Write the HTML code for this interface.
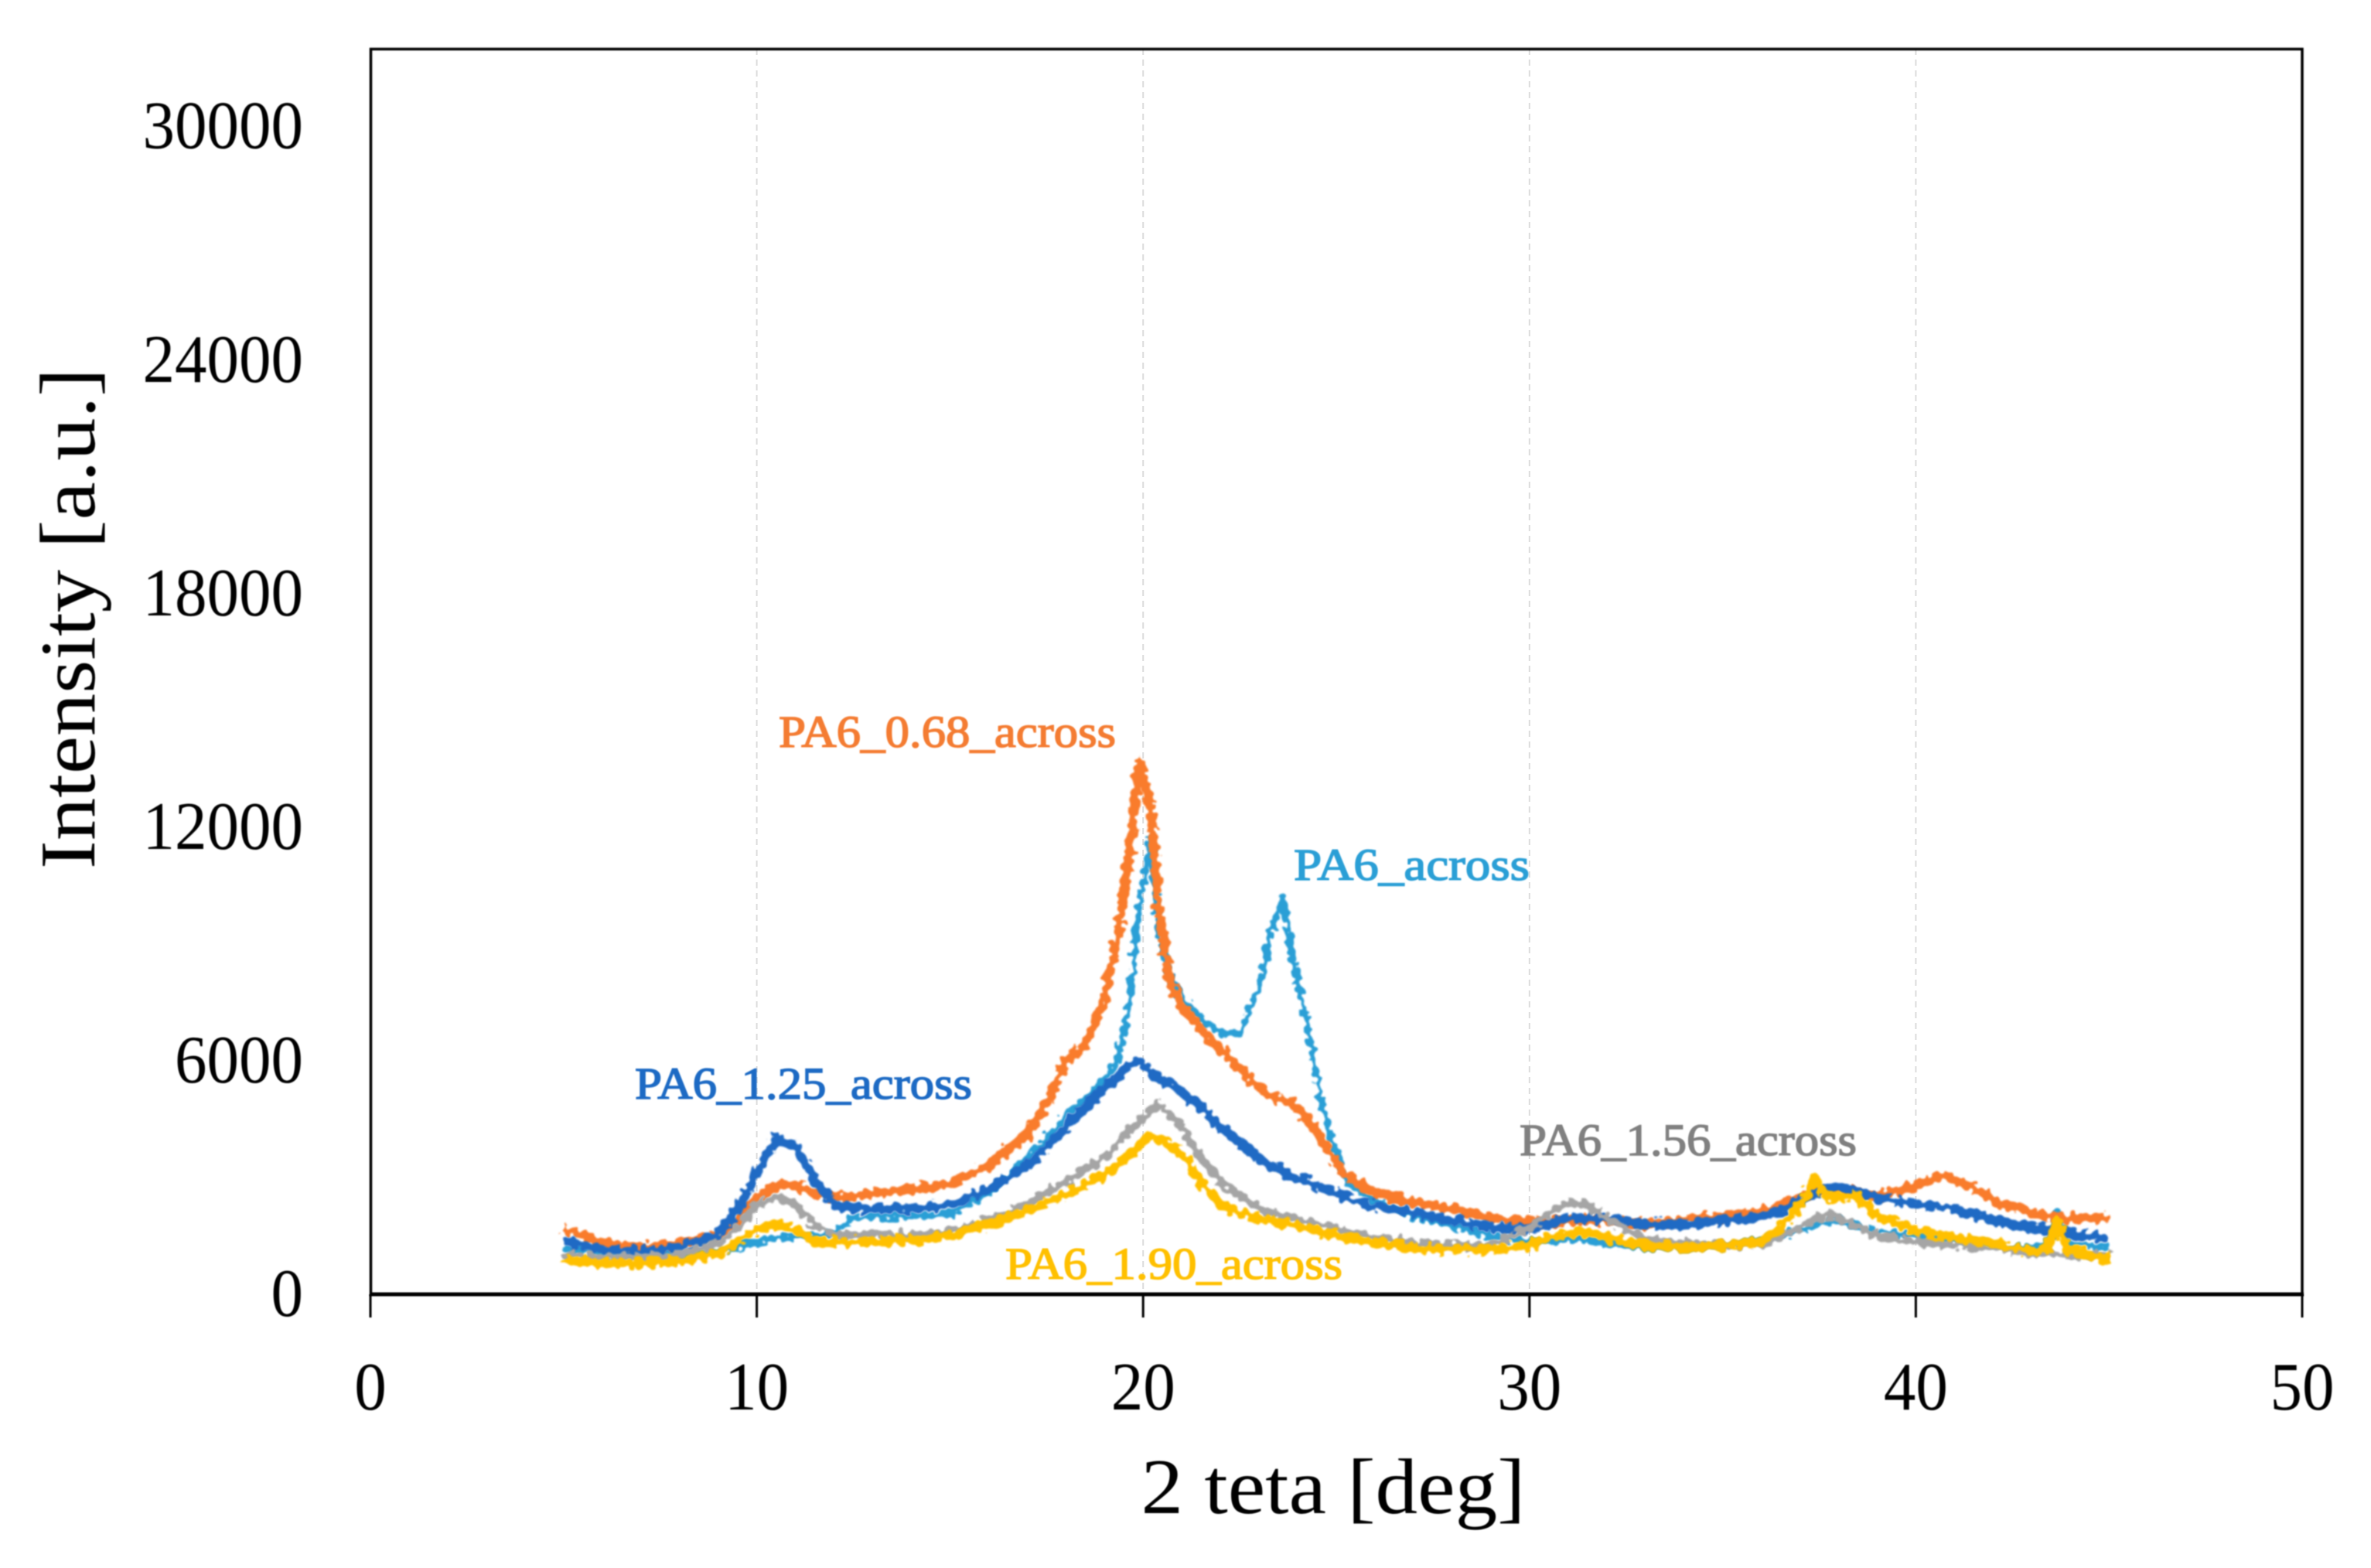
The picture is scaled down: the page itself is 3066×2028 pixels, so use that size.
<!DOCTYPE html>
<html lang="en">
<head>
<meta charset="utf-8">
<title>PA6 XRD intensity chart</title>
<style>
html,body{margin:0;padding:0;background:#fff;}
body{width:3066px;height:2028px;overflow:hidden;}
svg{display:block;}
text{font-family:"Liberation Serif","DejaVu Serif",serif;}
</style>
</head>
<body>
<svg id="chart" xmlns="http://www.w3.org/2000/svg" width="3066" height="2028" viewBox="0 0 3066 2028">
  <defs>
    <filter id="soft" x="0" y="0" width="3066" height="2028" filterUnits="userSpaceOnUse">
      <feGaussianBlur stdDeviation="0.9"/>
    </filter>
    <filter id="noise1" x="600" y="800" width="2300" height="900" filterUnits="userSpaceOnUse" color-interpolation-filters="sRGB">
      <feTurbulence type="fractalNoise" baseFrequency="0.13" numOctaves="1" seed="3" result="n"/>
      <feDisplacementMap in="SourceGraphic" in2="n" scale="18" xChannelSelector="R" yChannelSelector="G"/>
      <feGaussianBlur stdDeviation="1"/>
    </filter>
    <filter id="noise2" x="600" y="800" width="2300" height="900" filterUnits="userSpaceOnUse" color-interpolation-filters="sRGB">
      <feTurbulence type="fractalNoise" baseFrequency="0.13" numOctaves="1" seed="11" result="n"/>
      <feDisplacementMap in="SourceGraphic" in2="n" scale="18" xChannelSelector="R" yChannelSelector="G"/>
      <feGaussianBlur stdDeviation="1"/>
    </filter>
  </defs>
  <g id="grid"></g>
  <g id="series"></g>
  <g id="axes" filter="url(#soft)">
    <rect x="479.5" y="63.5" width="2497.5" height="1610.5" fill="none" stroke="#000" stroke-width="3.5"/>
    <line x1="478" y1="1674" x2="2979" y2="1674" stroke="#000" stroke-width="5"/>
  </g>
  <g id="ticks" filter="url(#soft)"></g>
  <g filter="url(#soft)">
    <text x="1724" y="1957" font-size="102" text-anchor="middle" textLength="497" lengthAdjust="spacingAndGlyphs" fill="#000">2 teta [deg]</text>
    <text transform="translate(122,800) rotate(-90)" font-size="102" text-anchor="middle" textLength="648" lengthAdjust="spacingAndGlyphs" fill="#000">Intensity [a.u.]</text>
    <text x="1007" y="966" font-size="58" textLength="436" lengthAdjust="spacingAndGlyphs" fill="#F47B30" stroke="#F47B30" stroke-width="1.5">PA6_0.68_across</text>
    <text x="1673" y="1138" font-size="58" textLength="305" lengthAdjust="spacingAndGlyphs" fill="#2A9FD6" stroke="#2A9FD6" stroke-width="1.5">PA6_across</text>
    <text x="821" y="1421" font-size="58" textLength="436" lengthAdjust="spacingAndGlyphs" fill="#1F6AC4" stroke="#1F6AC4" stroke-width="1.5">PA6_1.25_across</text>
    <text x="1965" y="1494" font-size="58" textLength="436" lengthAdjust="spacingAndGlyphs" fill="#808080" stroke="#808080" stroke-width="1.5">PA6_1.56_across</text>
    <text x="1300" y="1654" font-size="58" textLength="436" lengthAdjust="spacingAndGlyphs" fill="#FFC000" stroke="#FFC000" stroke-width="1.5">PA6_1.90_across</text>
  </g>
</svg>
<script>
const xTickLabels = [0, 10, 20, 30, 40, 50];
const yTickLabels = [0, 6000, 12000, 18000, 24000, 30000];

const twoTheta = [
  5,6,7,8,9,9.5,10,10.5,11,11.5,
  12,12.5,13,14,15,16,17,17.5,18,18.5,
  19,19.35,19.65,19.9,20.2,20.4,20.7,21,21.5,22,
  22.5,23,23.3,23.6,23.9,24.25,24.55,24.85,25.2,25.8,
  27,28,29,30,30.5,31,31.5,32,33,34,
  35,36,36.5,37,37.4,37.7,38,38.5,39,40,
  40.7,41.5,42,43,43.4,43.65,43.9,45
];

const pa6Across = [
  1150,1050,1000,1000,1100,1200,1350,1450,1450,1500,
  1600,1950,2000,2000,2050,2600,3500,4000,4600,5000,
  5500,6060,7470,10000,11700,9300,8100,7600,7100,6700,
  6700,7870,9300,10160,8490,6960,5250,4030,3020,2500,
  2000,1750,1500,1350,1350,1400,1400,1300,1200,1200,
  1250,1400,1500,1650,1800,1850,1900,1750,1600,1500,
  1400,1350,1250,1200,1250,2100,1300,1200
];
const pa6068Across = [
  1700,1300,1200,1300,1500,1900,2500,2800,2800,2600,
  2500,2500,2600,2700,2850,3300,4100,4900,6000,6400,
  7600,9200,11400,13700,12400,9900,8000,7400,6800,6300,
  5800,5300,5100,5000,4900,4500,4100,3600,3100,2700,
  2350,2200,1950,1850,1850,1900,1900,1900,1800,1900,
  2000,2100,2300,2500,2650,2700,2700,2600,2500,2800,
  3050,2750,2400,2100,2000,2000,1950,1950
];
const pa6125Across = [
  1350,1150,1100,1200,1500,2200,3100,4000,3800,2950,
  2300,2200,2200,2200,2300,2700,3300,3800,4300,4800,
  5300,5600,5900,6000,5700,5550,5400,5200,4800,4300,
  3900,3500,3300,3150,3000,2900,2750,2650,2500,2300,
  2100,1900,1700,1700,1800,1950,1950,1950,1800,1800,
  1900,2000,2150,2400,2600,2700,2750,2650,2500,2300,
  2250,2050,1900,1700,1650,1600,1550,1450
];
const pa6156Across = [
  1000,950,950,1000,1300,1700,2300,2500,2300,1800,
  1550,1500,1550,1500,1600,1900,2300,2600,2900,3200,
  3500,3900,4200,4450,4700,4900,4600,4300,3500,2900,
  2550,2200,2100,2000,1950,1850,1800,1750,1650,1500,
  1300,1250,1250,1700,2100,2350,2300,1950,1400,1300,
  1250,1300,1500,1700,1950,2050,1950,1750,1500,1350,
  1300,1250,1200,1050,1050,1050,1000,1000
];
const pa6190Across = [
  900,800,800,850,1050,1350,1650,1800,1650,1350,
  1350,1350,1350,1400,1500,1800,2150,2350,2550,2800,
  3100,3350,3600,3800,4100,4000,3800,3600,2900,2300,
  2100,1950,1900,1850,1800,1700,1600,1550,1450,1350,
  1200,1150,1150,1250,1450,1550,1600,1450,1250,1200,
  1250,1350,1700,2300,2950,2500,2500,2500,2000,1650,
  1500,1400,1300,1100,1150,1900,1150,900
];

const SVG_NS = 'http://www.w3.org/2000/svg';
const xMin = 0, xMax = 50, yMin = 0, yMax = 32000;
const plotLeft = 479, plotRight = 2977, plotTop = 63, plotBottom = 1674;
function xScale(v) { return plotLeft + (v - xMin) / (xMax - xMin) * (plotRight - plotLeft); }
function yScale(v) { return plotBottom - (v - yMin) / (yMax - yMin) * (plotBottom - plotTop); }

const gridGroup = document.getElementById('grid');
const tickGroup = document.getElementById('ticks');
const seriesGroup = document.getElementById('series');

xTickLabels.forEach(function (t) {
  const px = xScale(t);
  if (t > xMin && t < xMax) {
    const g = document.createElementNS(SVG_NS, 'line');
    
    
    g.setAttribute('x1', px); g.setAttribute('x2', px);
    g.setAttribute('y1', plotTop); g.setAttribute('y2', plotBottom);
    g.setAttribute('stroke', '#dcdcdc');
    g.setAttribute('stroke-width', '2');
    g.setAttribute('stroke-dasharray', '8 6');
    gridGroup.appendChild(g);
  }
  const tick = document.createElementNS(SVG_NS, 'line');
  
  
  tick.setAttribute('x1', px); tick.setAttribute('x2', px);
  tick.setAttribute('y1', plotBottom); tick.setAttribute('y2', plotBottom + 30);
  tick.setAttribute('stroke', '#000');
  tick.setAttribute('stroke-width', '3');
  tickGroup.appendChild(tick);
  const lab = document.createElementNS(SVG_NS, 'text');
  
  
  lab.setAttribute('x', px);
  lab.setAttribute('y', 1823);
  lab.setAttribute('font-size', '88');
  lab.setAttribute('text-anchor', 'middle');
  lab.setAttribute('textLength', String(t).length * 41.5);
  lab.setAttribute('lengthAdjust', 'spacingAndGlyphs');
  lab.setAttribute('fill', '#000');
  lab.textContent = String(t);
  tickGroup.appendChild(lab);
});

yTickLabels.forEach(function (t) {
  const lab = document.createElementNS(SVG_NS, 'text');
  
  
  lab.setAttribute('x', 392);
  lab.setAttribute('y', yScale(t) + 28);
  lab.setAttribute('font-size', '88');
  lab.setAttribute('text-anchor', 'end');
  lab.setAttribute('textLength', String(t).length * 41.5);
  lab.setAttribute('lengthAdjust', 'spacingAndGlyphs');
  lab.setAttribute('fill', '#000');
  lab.textContent = String(t);
  tickGroup.appendChild(lab);
});

function drawSeries(values, name, color, width, filterId) {
  const p = document.createElementNS(SVG_NS, 'polyline');
  
  
  const pts = values.map(function (v, i) {
    return xScale(twoTheta[i]).toFixed(1) + ',' + yScale(v).toFixed(1);
  }).join(' ');
  p.setAttribute('points', pts);
  p.setAttribute('fill', 'none');
  p.setAttribute('stroke', color);
  p.setAttribute('stroke-width', width);
  p.setAttribute('stroke-linejoin', 'round');
  p.setAttribute('filter', 'url(#' + filterId + ')');
  seriesGroup.appendChild(p);
}

drawSeries(pa6Across, 'series-pa6-across', '#2A9FD6', 8, 'noise1');
drawSeries(pa6068Across, 'series-pa6-0-68-across', '#F97C2C', 12, 'noise2');
drawSeries(pa6125Across, 'series-pa6-1-25-across', '#1F6AC4', 12, 'noise1');
drawSeries(pa6156Across, 'series-pa6-1-56-across', '#A5A5A5', 10, 'noise2');
drawSeries(pa6190Across, 'series-pa6-1-90-across', '#FFC000', 12, 'noise1');
</script>
</body>
</html>
